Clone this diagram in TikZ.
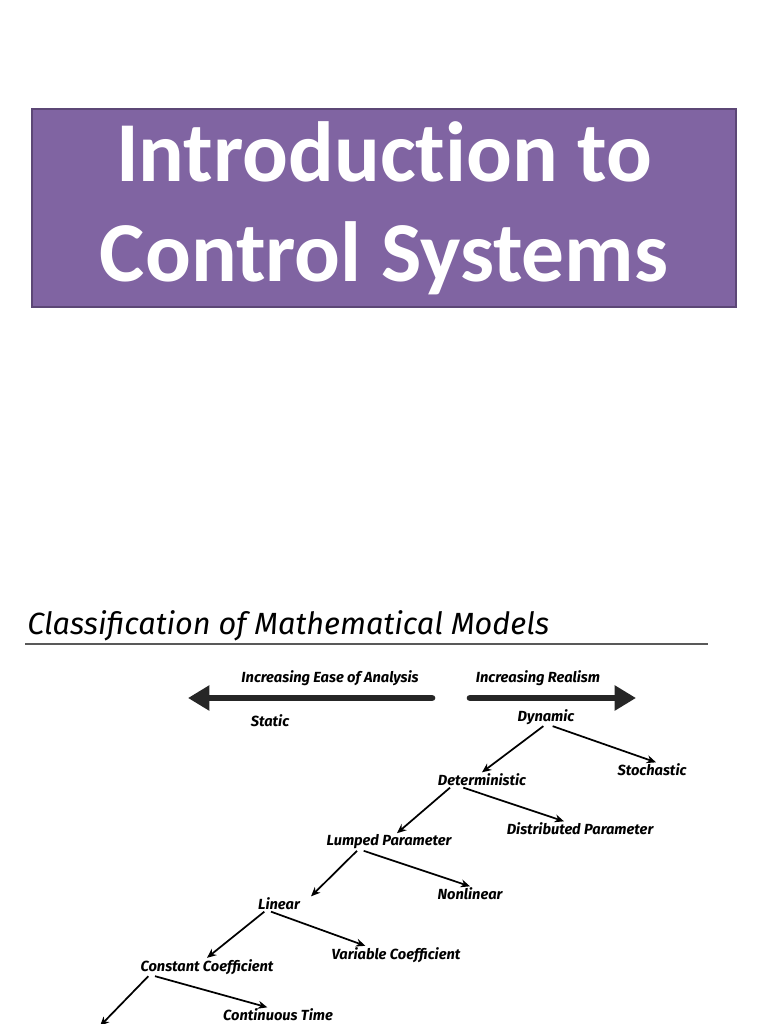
\documentclass[tikz,border=0pt]{standalone}
\usepackage{fontspec}
\setmainfont[Ligatures=NoCommon]{Carlito}
\newfontfamily\hand{Fira Sans}
\usetikzlibrary{arrows.meta}
\definecolor{titlefill}{HTML}{8064A2}
\definecolor{titleline}{HTML}{5C4776}
\begin{document}
\begin{tikzpicture}[x=0.75pt,y=-0.75pt,
  lbl/.style={font=\hand\bfseries\itshape\fontsize{11}{12}\selectfont, inner sep=1pt},
  br/.style={-{Stealth[length=7pt,width=6pt]}, line width=1.3pt},
  big/.style={-{Triangle[length=16pt,width=18pt]}, line width=5pt, color=black!85, line cap=round}]
\clip (0,0) rectangle (768,1024);
\fill[white] (0,0) rectangle (768,1024);
\node[draw=titleline, line width=1pt, fill=titlefill, minimum width=528pt, minimum height=148.5pt, inner sep=0pt,
  text=white, align=center, font=\bfseries\fontsize{64}{75}\selectfont] (title) at (384,208) {Introduction to\\Control Systems};
\node[anchor=west, font=\hand\itshape\fontsize{23}{26}\selectfont, inner sep=0pt] (head) at (27,626) {Classification of Mathematical Models};
\coordinate (l1) at (25,644); \coordinate (l2) at (708,644);
\draw[gray!70!black, line width=0.8pt] (l1) -- (l2);
\coordinate (la) at (432,698); \coordinate (lb) at (188,698);
\coordinate (ra) at (470,698); \coordinate (rb) at (636,698);
\draw[big] (la) -- (lb);
\draw[big] (ra) -- (rb);
\node[lbl] (ease) at (330,678) {Increasing Ease of Analysis};
\node[lbl] (real) at (538,678) {Increasing Realism};
\node[lbl] (static) at (270,721) {Static};
\node[lbl] (dyn) at (546,717) {Dynamic};
\node[lbl] (sto) at (652,770) {Stochastic};
\node[lbl] (det) at (482,780) {Deterministic};
\node[lbl] (dist) at (580,829) {Distributed Parameter};
\node[lbl] (lump) at (389,842) {Lumped Parameter};
\node[lbl] (nonl) at (470,894) {Nonlinear};
\node[lbl] (lin) at (279,904) {Linear};
\node[lbl] (var) at (396,955) {Variable Coefficient};
\node[lbl] (cc) at (207,967) {Constant Coefficient};
\node[lbl] (ct) at (278,1015) {Continuous Time};
\coordinate (dt) at (100,1026);
\draw[br] ([xshift=-2pt]dyn.south) -- (det.north);
\draw[br] ([xshift=5pt]dyn.south) -- ([xshift=3pt]sto.north);
\draw[br] ([xshift=-24pt]det.south) -- ([xshift=6pt]lump.north);
\draw[br] ([xshift=-14pt]det.south) -- ([xshift=-12pt]dist.north);
\draw[br] ([xshift=-24pt]lump.south) -- ([xshift=24pt]lin.north);
\draw[br] ([xshift=-19pt]lump.south) -- (nonl.north);
\draw[br] ([xshift=-11pt]lin.south) -- (cc.north);
\draw[br] ([xshift=-6pt]lin.south) -- ([xshift=-23pt]var.north);
\draw[br] ([xshift=-44pt]cc.south) -- (dt);
\draw[br] ([xshift=-39pt]cc.south) -- ([xshift=-8pt]ct.north);
\end{tikzpicture}
\end{document}
